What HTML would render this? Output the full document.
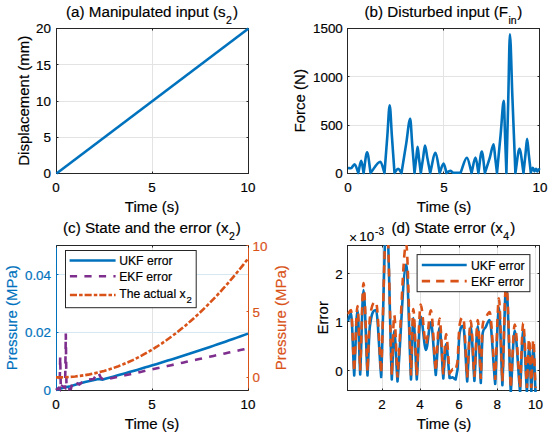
<!DOCTYPE html>
<html><head><meta charset="utf-8"><style>
html,body{margin:0;padding:0;background:#fff;overflow:hidden;}
svg{display:block;font-family:"Liberation Sans", sans-serif;}
text{stroke:currentColor;stroke-width:0.18px;}
</style></head><body>
<svg width="550" height="439" viewBox="0 0 550 439">
<rect width="550" height="439" fill="#fff"/>
<line x1="56.5" y1="28.5" x2="56.5" y2="173.5" stroke="#e3e3e3" stroke-width="1"/>
<line x1="152.5" y1="28.5" x2="152.5" y2="173.5" stroke="#e3e3e3" stroke-width="1"/>
<line x1="248.5" y1="28.5" x2="248.5" y2="173.5" stroke="#e3e3e3" stroke-width="1"/>
<line x1="56.5" y1="173.5" x2="248.5" y2="173.5" stroke="#e3e3e3" stroke-width="1"/>
<line x1="56.5" y1="137.5" x2="248.5" y2="137.5" stroke="#e3e3e3" stroke-width="1"/>
<line x1="56.5" y1="101.5" x2="248.5" y2="101.5" stroke="#e3e3e3" stroke-width="1"/>
<line x1="56.5" y1="64.5" x2="248.5" y2="64.5" stroke="#e3e3e3" stroke-width="1"/>
<line x1="56.5" y1="28.5" x2="248.5" y2="28.5" stroke="#e3e3e3" stroke-width="1"/>
<path d="M56.5,28.5 H248.5" stroke="#262626" stroke-width="1" fill="none"/>
<path d="M56.5,173.5 H248.5" stroke="#262626" stroke-width="1" fill="none"/>
<path d="M56.5,28.0 V174.0" stroke="#262626" stroke-width="1" fill="none"/>
<path d="M248.5,28.0 V174.0" stroke="#262626" stroke-width="1" fill="none"/>
<path d="M56.5,173.5 v-2 M56.5,28.5 v2" stroke="#262626" stroke-width="1"/>
<path d="M152.5,173.5 v-2 M152.5,28.5 v2" stroke="#262626" stroke-width="1"/>
<path d="M248.5,173.5 v-2 M248.5,28.5 v2" stroke="#262626" stroke-width="1"/>
<path d="M56.5,173.5 h2" stroke="#262626" stroke-width="1"/>
<path d="M248.5,173.5 h-2" stroke="#262626" stroke-width="1"/>
<path d="M56.5,137.5 h2" stroke="#262626" stroke-width="1"/>
<path d="M248.5,137.5 h-2" stroke="#262626" stroke-width="1"/>
<path d="M56.5,101.5 h2" stroke="#262626" stroke-width="1"/>
<path d="M248.5,101.5 h-2" stroke="#262626" stroke-width="1"/>
<path d="M56.5,64.5 h2" stroke="#262626" stroke-width="1"/>
<path d="M248.5,64.5 h-2" stroke="#262626" stroke-width="1"/>
<path d="M56.5,28.5 h2" stroke="#262626" stroke-width="1"/>
<path d="M248.5,28.5 h-2" stroke="#262626" stroke-width="1"/>
<path d="M56.5,173.5 L248.5,28.5" stroke="#0072BD" stroke-width="2.6" fill="none" stroke-linecap="butt"/>
<text x="51" y="178.3" font-size="13.4" text-anchor="end" fill="#000" color="#000" >0</text>
<text x="51" y="142.05" font-size="13.4" text-anchor="end" fill="#000" color="#000" >5</text>
<text x="51" y="105.8" font-size="13.4" text-anchor="end" fill="#000" color="#000" >10</text>
<text x="51" y="69.55" font-size="13.4" text-anchor="end" fill="#000" color="#000" >15</text>
<text x="51" y="33.3" font-size="13.4" text-anchor="end" fill="#000" color="#000" >20</text>
<text x="56" y="192.2" font-size="13.4" text-anchor="middle" fill="#000" color="#000" >0</text>
<text x="152" y="192.2" font-size="13.4" text-anchor="middle" fill="#000" color="#000" >5</text>
<text x="248" y="192.2" font-size="13.4" text-anchor="middle" fill="#000" color="#000" >10</text>
<text x="152" y="211.7" font-size="15" text-anchor="middle" fill="#000" color="#000" >Time (s)</text>
<text x="152" y="17" font-size="15.2" text-anchor="middle" fill="#000" color="#000" >(a) Manipulated input (s<tspan font-size="10.5" dy="6.5" dx="0.5">2</tspan><tspan dy="-6.5" dx="1">)</tspan></text>
<text transform="translate(29.2,100.75) rotate(-90)" font-size="15" text-anchor="middle" fill="#000" color="#000">Displacement (mm)</text>
<line x1="347.5" y1="28.5" x2="347.5" y2="173.5" stroke="#e3e3e3" stroke-width="1"/>
<line x1="443.5" y1="28.5" x2="443.5" y2="173.5" stroke="#e3e3e3" stroke-width="1"/>
<line x1="539.5" y1="28.5" x2="539.5" y2="173.5" stroke="#e3e3e3" stroke-width="1"/>
<line x1="347.5" y1="173.5" x2="539.5" y2="173.5" stroke="#e3e3e3" stroke-width="1"/>
<line x1="347.5" y1="125.5" x2="539.5" y2="125.5" stroke="#e3e3e3" stroke-width="1"/>
<line x1="347.5" y1="76.5" x2="539.5" y2="76.5" stroke="#e3e3e3" stroke-width="1"/>
<line x1="347.5" y1="28.5" x2="539.5" y2="28.5" stroke="#e3e3e3" stroke-width="1"/>
<path d="M347.5,28.5 H539.5" stroke="#262626" stroke-width="1" fill="none"/>
<path d="M347.5,173.5 H539.5" stroke="#262626" stroke-width="1" fill="none"/>
<path d="M347.5,28.0 V174.0" stroke="#262626" stroke-width="1" fill="none"/>
<path d="M539.5,28.0 V174.0" stroke="#262626" stroke-width="1" fill="none"/>
<path d="M347.5,173.5 v-2 M347.5,28.5 v2" stroke="#262626" stroke-width="1"/>
<path d="M443.5,173.5 v-2 M443.5,28.5 v2" stroke="#262626" stroke-width="1"/>
<path d="M539.5,173.5 v-2 M539.5,28.5 v2" stroke="#262626" stroke-width="1"/>
<path d="M347.5,173.5 h2" stroke="#262626" stroke-width="1"/>
<path d="M539.5,173.5 h-2" stroke="#262626" stroke-width="1"/>
<path d="M347.5,125.5 h2" stroke="#262626" stroke-width="1"/>
<path d="M539.5,125.5 h-2" stroke="#262626" stroke-width="1"/>
<path d="M347.5,76.5 h2" stroke="#262626" stroke-width="1"/>
<path d="M539.5,76.5 h-2" stroke="#262626" stroke-width="1"/>
<path d="M347.5,28.5 h2" stroke="#262626" stroke-width="1"/>
<path d="M539.5,28.5 h-2" stroke="#262626" stroke-width="1"/>
<path d="M348,168 C348.97,168.1 349.93,168.3 350.9,168.3 C352.13,168.3 353.37,164.2 354.6,164.2 C355.83,164.2 357.07,170.07 358.3,173 C359.27,168.97 360.23,160.9 361.2,160.9 C362,160.9 362.8,168.97 363.6,173 C364.77,166.1 365.93,152.3 367.1,152.3 C368.27,152.3 369.43,166.1 370.6,173 C373.87,169.23 377.13,161.7 380.4,161.7 C381.77,161.7 383.13,169.23 384.5,173 C385.45,160.57 386.41,148.14 387.36,135.71 C388.14,125.54 388.92,105.2 389.7,105.2 C390.42,105.2 391.14,125.54 391.86,135.71 C392.74,148.14 393.62,160.57 394.5,173 C395.7,171.6 396.9,168.8 398.1,168.8 C399.23,168.8 400.37,171.6 401.5,173 C403.09,163.04 404.69,153.09 406.28,143.13 C407.59,134.99 408.89,118.7 410.2,118.7 C410.84,118.7 411.49,134.99 412.13,143.13 C412.92,153.09 413.71,163.04 414.5,173 C415.07,168.2 415.64,163.39 416.21,158.59 C416.67,154.66 417.14,146.8 417.6,146.8 C418.08,146.8 418.56,154.66 419.04,158.59 C419.63,163.39 420.21,168.2 420.8,173 C421.57,167.96 422.34,162.92 423.11,157.88 C423.74,153.75 424.37,145.5 425,145.5 C425.78,145.5 426.56,153.75 427.34,157.88 C428.29,162.92 429.25,167.96 430.2,173 C431.97,166.27 433.73,152.8 435.5,152.8 C436.9,152.8 438.3,166.27 439.7,173 C441,169.83 442.3,163.5 443.6,163.5 C444.57,163.5 445.53,169.83 446.5,173 C447.73,172.3 448.97,170.9 450.2,170.9 C451.2,170.9 452.2,172.17 453.2,172.8 C455.67,172.8 458.13,172.8 460.6,172.8 C462.7,167.8 464.8,157.8 466.9,157.8 C468.47,157.8 470.03,167.93 471.6,173 C472.9,167.83 474.2,157.5 475.5,157.5 C476.47,157.5 477.43,167.83 478.4,173 C479.53,165.83 480.67,151.5 481.8,151.5 C482.83,151.5 483.87,165.83 484.9,173 C486.57,167.77 488.23,162.87 489.9,157.3 C491.13,153.18 492.37,144.2 493.6,144.2 C494.11,144.2 494.62,152.84 495.13,157.16 C495.75,162.44 496.38,167.72 497,173 C498.25,159.76 499.49,146.53 500.74,133.29 C501.76,122.46 502.78,100.8 503.8,100.8 C504.19,100.8 504.58,122.46 504.97,133.29 C505.45,146.53 505.92,159.76 506.4,173 C507.04,147.55 507.68,122.11 508.32,96.66 C508.85,75.84 509.38,34.2 509.9,34.2 C510.72,34.2 511.55,75.84 512.38,96.66 C513.38,122.11 514.39,147.55 515.4,173 C516.77,164.97 518.13,148.9 519.5,148.9 C520.83,148.9 522.17,164.97 523.5,173 C524.16,166.75 524.82,160.5 525.48,154.25 C526.02,149.13 526.56,138.9 527.1,138.9 C527.65,138.9 528.21,148.98 528.76,154.02 C529.44,160.18 530.12,166.34 530.8,172.5 C531.5,170.93 532.2,167.8 532.9,167.8 C533.43,167.8 533.97,171.4 534.5,171.4 C535,171.4 535.5,168.8 536,168.8 C536.43,168.8 536.87,171.5 537.3,171.5 C537.77,171.5 538.23,169.3 538.7,169.3 C539.13,169.3 539.57,169.77 540,170" stroke="#0072BD" stroke-width="2.6" fill="none" stroke-linejoin="round"/>
<text x="342.8" y="178.3" font-size="13.4" text-anchor="end" fill="#000" color="#000" >0</text>
<text x="342.8" y="129.97" font-size="13.4" text-anchor="end" fill="#000" color="#000" >500</text>
<text x="342.8" y="81.63" font-size="13.4" text-anchor="end" fill="#000" color="#000" >1000</text>
<text x="342.8" y="33.3" font-size="13.4" text-anchor="end" fill="#000" color="#000" >1500</text>
<text x="348" y="192.2" font-size="13.4" text-anchor="middle" fill="#000" color="#000" >0</text>
<text x="444" y="192.2" font-size="13.4" text-anchor="middle" fill="#000" color="#000" >5</text>
<text x="540" y="192.2" font-size="13.4" text-anchor="middle" fill="#000" color="#000" >10</text>
<text x="444" y="211.7" font-size="15" text-anchor="middle" fill="#000" color="#000" >Time (s)</text>
<text x="443.4" y="17" font-size="15.2" text-anchor="middle" fill="#000" color="#000" >(b) Disturbed input (F<tspan font-size="10.5" dy="6.5" dx="0.3">in</tspan><tspan dy="-6.5" dx="0.6">)</tspan></text>
<text transform="translate(304.6,100.75) rotate(-90)" font-size="15" text-anchor="middle" fill="#000" color="#000">Force (N)</text>
<line x1="56.5" y1="245.5" x2="56.5" y2="390.5" stroke="#e3e3e3" stroke-width="1"/>
<line x1="152.5" y1="245.5" x2="152.5" y2="390.5" stroke="#e3e3e3" stroke-width="1"/>
<line x1="248.5" y1="245.5" x2="248.5" y2="390.5" stroke="#e3e3e3" stroke-width="1"/>
<line x1="56.5" y1="390.5" x2="248.5" y2="390.5" stroke="#d6e7f4" stroke-width="1"/>
<line x1="56.5" y1="332.5" x2="248.5" y2="332.5" stroke="#d6e7f4" stroke-width="1"/>
<line x1="56.5" y1="274.5" x2="248.5" y2="274.5" stroke="#d6e7f4" stroke-width="1"/>
<path d="M56.5,245.5 H248.5" stroke="#262626" stroke-width="1" fill="none"/>
<path d="M56.5,390.5 H248.5" stroke="#262626" stroke-width="1" fill="none"/>
<path d="M56.5,245.0 V391.0" stroke="#0072BD" stroke-width="1" fill="none"/>
<path d="M248.5,245.0 V391.0" stroke="#D95319" stroke-width="1" fill="none"/>
<path d="M56.5,390.5 v-2 M56.5,245.5 v2" stroke="#262626" stroke-width="1"/>
<path d="M152.5,390.5 v-2 M152.5,245.5 v2" stroke="#262626" stroke-width="1"/>
<path d="M248.5,390.5 v-2 M248.5,245.5 v2" stroke="#262626" stroke-width="1"/>
<path d="M56.5,390.5 h2" stroke="#0072BD" stroke-width="1"/>
<path d="M56.5,332.5 h2" stroke="#0072BD" stroke-width="1"/>
<path d="M56.5,274.5 h2" stroke="#0072BD" stroke-width="1"/>
<path d="M248.5,377.5 h-2" stroke="#D95319" stroke-width="1"/>
<path d="M248.5,311.5 h-2" stroke="#D95319" stroke-width="1"/>
<path d="M248.5,245.5 h-2" stroke="#D95319" stroke-width="1"/>
<path d="M56,390 L63.3,387.69 L70.5,386.3 L77.79,384.1 L85.11,381.91 L95.3,379.71 L98.24,379.02 L102.46,379.6 L106.3,378.55 L110.14,377.5 L113.98,376.44 L117.82,375.37 L121.66,374.29 L125.5,373.2 L129.34,372.1 L133.18,370.99 L137.02,369.88 L140.86,368.75 L144.7,367.62 L148.54,366.47 L152.38,365.32 L156.22,364.16 L160.06,362.98 L163.9,361.8 L167.74,360.61 L171.58,359.41 L175.42,358.2 L179.26,356.99 L183.1,355.76 L186.94,354.52 L190.78,353.28 L194.62,352.02 L198.46,350.76 L202.3,349.49 L206.14,348.21 L209.98,346.92 L213.82,345.62 L217.66,344.31 L221.5,342.99 L225.34,341.66 L229.18,340.32 L233.02,338.98 L236.86,337.62 L240.7,336.26 L244.54,334.88 L248,333.64" stroke="#0072BD" stroke-width="2.6" fill="none"/>
<path d="M56,390 L58.5,388 L59.6,389 L60.2,356.3 L60.8,389 L62,386 L65.1,388 L65.8,333.6 L66.5,389 L68,389.5 L70.9,388.8 L72.9,381.3 L79.4,384.5 L83,381.5 L87.6,379.6 L93.6,379 L98.3,372.3 L100.7,377.5 L104,380.2 L105.92,379.47 L109.76,378.63 L113.6,377.79 L117.44,376.95 L121.28,376.11 L125.12,375.27 L128.96,374.43 L132.8,373.59 L136.64,372.75 L140.48,371.91 L144.32,371.07 L148.16,370.23 L152,369.39 L155.84,368.55 L159.68,367.71 L163.52,366.87 L167.36,366.03 L171.2,365.19 L175.04,364.35 L178.88,363.51 L182.72,362.67 L186.56,361.83 L190.4,360.99 L194.24,360.15 L198.08,359.31 L201.92,358.47 L205.76,357.63 L209.6,356.79 L213.44,355.95 L217.28,355.11 L221.12,354.27 L224.96,353.43 L228.8,352.59 L232.64,351.75 L236.48,350.91 L240.32,350.07 L244.16,349.23 L248,348.39" stroke="#7E2F8E" stroke-width="2.6" fill="none" stroke-dasharray="7.2,7.3"/>
<path d="M56,377.4 L60.8,377.35 L65.6,377.18 L70.4,376.88 L75.2,376.46 L80,375.89 L84.8,375.19 L89.6,374.35 L94.4,373.36 L99.2,372.22 L104,370.94 L108.8,369.51 L113.6,367.93 L118.4,366.19 L123.2,364.31 L128,362.26 L132.8,360.07 L137.6,357.71 L142.4,355.2 L147.2,352.53 L152,349.71 L156.8,346.72 L161.6,343.57 L166.4,340.26 L171.2,336.79 L176,333.15 L180.8,329.35 L185.6,325.39 L190.4,321.26 L195.2,316.97 L200,312.51 L204.8,307.88 L209.6,303.09 L214.4,298.13 L219.2,293 L224,287.71 L228.8,282.24 L233.6,276.6 L238.4,270.8 L243.2,264.82 L248,258.67" stroke="#D95319" stroke-width="2.6" fill="none" stroke-dasharray="7.1,2.1,3.5,2.0"/>
<rect x="65.5" y="250.5" width="130.7" height="57.2" fill="#fff" stroke="#262626" stroke-width="1"/>
<path d="M69.6,260.5 H115.6" stroke="#0072BD" stroke-width="2.6"/>
<path d="M69.9,276.3 H115.6" stroke="#7E2F8E" stroke-width="2.6" stroke-dasharray="7.2,7.3"/>
<path d="M69.9,295 H115.6" stroke="#D95319" stroke-width="2.6" stroke-dasharray="7.1,2.1,3.5,2.0"/>
<text x="119.2" y="265.1" font-size="12.2" text-anchor="start" fill="#000" color="#000" >UKF error</text>
<text x="119.2" y="281.2" font-size="12.2" text-anchor="start" fill="#000" color="#000" >EKF error</text>
<text x="119.2" y="298" font-size="12.2" text-anchor="start" fill="#000" color="#000" >The actual x<tspan font-size="9.5" dy="5.3" dx="0.8">2</tspan></text>
<text x="51" y="395.2" font-size="13.4" text-anchor="end" fill="#0072BD" color="#0072BD" >0</text>
<text x="51" y="337.4" font-size="13.4" text-anchor="end" fill="#0072BD" color="#0072BD" >0.02</text>
<text x="51" y="279.6" font-size="13.4" text-anchor="end" fill="#0072BD" color="#0072BD" >0.04</text>
<text x="252.5" y="382" font-size="13.4" text-anchor="start" fill="#D95319" color="#D95319" >0</text>
<text x="252.5" y="316.5" font-size="13.4" text-anchor="start" fill="#D95319" color="#D95319" >5</text>
<text x="252.5" y="250.5" font-size="13.4" text-anchor="start" fill="#D95319" color="#D95319" >10</text>
<text x="56" y="409.2" font-size="13.4" text-anchor="middle" fill="#000" color="#000" >0</text>
<text x="152" y="409.2" font-size="13.4" text-anchor="middle" fill="#000" color="#000" >5</text>
<text x="248" y="409.2" font-size="13.4" text-anchor="middle" fill="#000" color="#000" >10</text>
<text x="152" y="428.7" font-size="15" text-anchor="middle" fill="#000" color="#000" >Time (s)</text>
<text x="152" y="233" font-size="15.2" text-anchor="middle" fill="#000" color="#000" >(c) State and the error (x<tspan font-size="10.5" dy="6.5" dx="0.5">2</tspan><tspan dy="-6.5" dx="1">)</tspan></text>
<text transform="translate(17.2,317.75) rotate(-90)" font-size="15" text-anchor="middle" fill="#0072BD" color="#0072BD">Pressure (MPa)</text>
<text transform="translate(286,317.75) rotate(-90)" font-size="15" text-anchor="middle" fill="#D95319" color="#D95319">Pressure (MPa)</text>
<line x1="382.5" y1="245.5" x2="382.5" y2="390.5" stroke="#e3e3e3" stroke-width="1"/>
<line x1="420.5" y1="245.5" x2="420.5" y2="390.5" stroke="#e3e3e3" stroke-width="1"/>
<line x1="459.5" y1="245.5" x2="459.5" y2="390.5" stroke="#e3e3e3" stroke-width="1"/>
<line x1="497.5" y1="245.5" x2="497.5" y2="390.5" stroke="#e3e3e3" stroke-width="1"/>
<line x1="535.5" y1="245.5" x2="535.5" y2="390.5" stroke="#e3e3e3" stroke-width="1"/>
<line x1="347.5" y1="370.5" x2="539.5" y2="370.5" stroke="#e3e3e3" stroke-width="1"/>
<line x1="347.5" y1="321.5" x2="539.5" y2="321.5" stroke="#e3e3e3" stroke-width="1"/>
<line x1="347.5" y1="273.5" x2="539.5" y2="273.5" stroke="#e3e3e3" stroke-width="1"/>
<path d="M347.5,245.5 H539.5" stroke="#262626" stroke-width="1" fill="none"/>
<path d="M347.5,390.5 H539.5" stroke="#262626" stroke-width="1" fill="none"/>
<path d="M347.5,245.0 V391.0" stroke="#262626" stroke-width="1" fill="none"/>
<path d="M539.5,245.0 V391.0" stroke="#262626" stroke-width="1" fill="none"/>
<path d="M382.5,390.5 v-2 M382.5,245.5 v2" stroke="#262626" stroke-width="1"/>
<path d="M420.5,390.5 v-2 M420.5,245.5 v2" stroke="#262626" stroke-width="1"/>
<path d="M459.5,390.5 v-2 M459.5,245.5 v2" stroke="#262626" stroke-width="1"/>
<path d="M497.5,390.5 v-2 M497.5,245.5 v2" stroke="#262626" stroke-width="1"/>
<path d="M535.5,390.5 v-2 M535.5,245.5 v2" stroke="#262626" stroke-width="1"/>
<path d="M347.5,370.5 h2" stroke="#262626" stroke-width="1"/>
<path d="M539.5,370.5 h-2" stroke="#262626" stroke-width="1"/>
<path d="M347.5,321.5 h2" stroke="#262626" stroke-width="1"/>
<path d="M539.5,321.5 h-2" stroke="#262626" stroke-width="1"/>
<path d="M347.5,273.5 h2" stroke="#262626" stroke-width="1"/>
<path d="M539.5,273.5 h-2" stroke="#262626" stroke-width="1"/>
<clipPath id="cd"><rect x="346.5" y="245.0" width="194.0" height="147.0"/></clipPath>
<g clip-path="url(#cd)">
<path d="M348,321 C349,318.33 350,313 351,313 C352.07,313 353.13,358.83 354.2,375.5 C355.3,358.03 356.4,310 357.5,310 C358.4,310 359.3,357.3 360.2,374.5 C361.3,351.97 362.4,290 363.5,290 C364.83,290 366.17,352.7 367.5,375.5 C368.27,362.57 369.03,333.31 369.8,327 C371.87,310 373.93,310 376,310 C377.73,310 379.47,359.13 381.2,377 C383,333.8 384.8,215 386.6,215 C388.33,215 390.07,335.63 391.8,379.5 C392.6,366.57 393.4,331 394.2,331 C395.3,331 396.4,368.03 397.5,381.5 C400.4,350.3 403.3,264.5 406.2,264.5 C407.8,264.5 409.4,348.83 411,379.5 C411.77,363.1 412.53,318 413.3,318 C414.47,318 415.63,363.1 416.8,379.5 C418.1,362.7 419.4,316.5 420.7,316.5 C422.47,316.5 424.23,350 426,350 C427.6,350 429.2,322.2 430.8,322.2 C432.47,322.2 434.13,360.92 435.8,375 C437.07,362.33 438.33,327.5 439.6,327.5 C440.83,327.5 442.07,364.9 443.3,378.5 C444.23,369.3 445.17,344 446.1,344 C447.27,344 448.43,368.93 449.6,378 C450.6,377.81 451.6,377.49 452.6,377.3 C453.6,377.89 454.6,378.91 455.6,379.5 C456.23,376.97 456.87,372.53 457.5,370 C458.17,360.4 458.83,338.38 459.5,334 C460.73,325.9 461.97,325.9 463.2,325.9 C464.53,325.9 465.87,366.67 467.2,381.5 C468.37,366.91 469.53,326.8 470.7,326.8 C471.93,326.8 473.17,366.55 474.4,381 C475.53,366.33 476.67,326 477.8,326 C478.8,326 479.8,367.8 480.8,383 C481.43,369.67 482.07,336.73 482.7,333 C483.63,327.5 484.57,329.27 485.5,327.5 C486.87,324.91 488.23,320 489.6,320 C491.47,320 493.33,366.93 495.2,384 C496.43,363.57 497.67,307.4 498.9,307.4 C500.07,307.4 501.23,364.53 502.4,385.3 C503.67,358.55 504.93,285 506.2,285 C507.73,285 509.27,363.47 510.8,392 C512.1,375.6 513.4,330.5 514.7,330.5 C516.5,330.5 518.3,375.6 520.1,392 C521.13,375.47 522.17,330 523.2,330 C524.43,330 525.67,375.47 526.9,392 C527.63,380.13 528.37,347.5 529.1,347.5 C529.83,347.5 530.57,380.13 531.3,392 C531.97,380.37 532.63,348.4 533.3,348.4 C534.03,348.4 534.77,377.47 535.5,392" stroke="#0072BD" stroke-width="2.6" fill="none" stroke-linejoin="round"/>
<path d="M348,314 C349,312.67 350,310 351,310 C352.07,310 353.13,355.1 354.2,371.5 C355.3,354.03 356.4,306 357.5,306 C358.4,306 359.3,353.3 360.2,370.5 C361.3,347.17 362.4,283 363.5,283 C364.83,283 366.17,347.9 367.5,371.5 C368.27,357.5 369.03,325.31 369.8,319 C371.87,302 373.93,302 376,302 C377.73,302 379.47,354.07 381.2,373 C383,330.87 384.8,215 386.6,215 C388.33,215 390.07,332.7 391.8,375.5 C392.6,359.37 393.4,315 394.2,315 C395.3,315 396.4,360.83 397.5,377.5 C400.4,341.77 403.3,243.5 406.2,243.5 C407.8,243.5 409.4,340.3 411,375.5 C411.77,357.77 412.53,309 413.3,309 C414.47,309 415.63,357.77 416.8,375.5 C418.1,356.57 419.4,304.5 420.7,304.5 C422.47,304.5 424.23,344 426,344 C427.6,344 429.2,310.2 430.8,310.2 C432.47,310.2 434.13,354.79 435.8,371 C437.07,357 438.33,318.5 439.6,318.5 C440.83,318.5 442.07,359.57 443.3,374.5 C444.23,363.7 445.17,334 446.1,334 C447.27,334 448.43,362.6 449.6,373 C450.6,372.01 451.6,370.29 452.6,369.3 C453.6,369.62 454.6,370.18 455.6,370.5 C456.23,368.23 456.87,364.27 457.5,362 C458.17,352.4 458.83,330.65 459.5,326 C460.73,317.4 461.97,317.4 463.2,317.4 C464.53,317.4 465.87,361.47 467.2,377.5 C468.37,362.38 469.53,320.8 470.7,320.8 C471.93,320.8 473.17,362.01 474.4,377 C475.53,361.8 476.67,320 477.8,320 C478.8,320 479.8,363.27 480.8,379 C481.43,364.6 482.07,329.41 482.7,325 C483.63,318.5 484.57,320.32 485.5,318.5 C486.87,315.83 488.23,312 489.6,312 C491.47,312 493.33,361.87 495.2,380 C496.43,358.24 497.67,298.4 498.9,298.4 C500.07,298.4 501.23,359.19 502.4,381.3 C503.67,354.55 504.93,281 506.2,281 C507.73,281 509.27,359.47 510.8,388 C512.1,371.07 513.4,324.5 514.7,324.5 C516.5,324.5 518.3,371.07 520.1,388 C521.13,370.67 522.17,323 523.2,323 C524.43,323 525.67,370.67 526.9,388 C527.63,374.93 528.37,339 529.1,339 C529.83,339 530.57,374.93 531.3,388 C531.97,375.17 532.63,339.9 533.3,339.9 C534.03,339.9 534.77,371.97 535.5,388" stroke="#D95319" stroke-width="2.6" fill="none" stroke-dasharray="8,6"/>
</g>
<rect x="417.1" y="254.6" width="112.8" height="37.1" fill="#fff" stroke="#262626" stroke-width="1"/>
<path d="M421.8,265 H466.7" stroke="#0072BD" stroke-width="2.6"/>
<path d="M421.8,281.1 H466.7" stroke="#D95319" stroke-width="2.6" stroke-dasharray="8.3,6"/>
<text x="471" y="269.8" font-size="12.2" text-anchor="start" fill="#000" color="#000" >UKF error</text>
<text x="471" y="285.9" font-size="12.2" text-anchor="start" fill="#000" color="#000" >EKF error</text>
<text x="342.8" y="375.7" font-size="13.4" text-anchor="end" fill="#000" color="#000" >0</text>
<text x="342.8" y="327.3" font-size="13.4" text-anchor="end" fill="#000" color="#000" >1</text>
<text x="342.8" y="278.9" font-size="13.4" text-anchor="end" fill="#000" color="#000" >2</text>
<text x="382" y="409.2" font-size="13.4" text-anchor="middle" fill="#000" color="#000" >2</text>
<text x="420" y="409.2" font-size="13.4" text-anchor="middle" fill="#000" color="#000" >4</text>
<text x="459" y="409.2" font-size="13.4" text-anchor="middle" fill="#000" color="#000" >6</text>
<text x="497.2" y="409.2" font-size="13.4" text-anchor="middle" fill="#000" color="#000" >8</text>
<text x="535.5" y="409.2" font-size="13.4" text-anchor="middle" fill="#000" color="#000" >10</text>
<text x="444" y="428.7" font-size="15" text-anchor="middle" fill="#000" color="#000" >Time (s)</text>
<text x="453.3" y="233" font-size="15.2" text-anchor="middle" fill="#000" color="#000" >(d) State error (x<tspan font-size="10.5" dy="6.5" dx="0.5">4</tspan><tspan dy="-6.5" dx="1">)</tspan></text>
<text transform="translate(328,317.75) rotate(-90)" font-size="15" text-anchor="middle" fill="#000" color="#000">Error</text>
<text x="349" y="243.2" font-size="14" text-anchor="start" fill="#000" color="#000" style="stroke-width:0">×</text>
<text x="359.2" y="241.3" font-size="13.4" text-anchor="start" fill="#000" color="#000" >10<tspan font-size="10" dy="-6.3" dx="1">-3</tspan></text>
</svg>
</body></html>
